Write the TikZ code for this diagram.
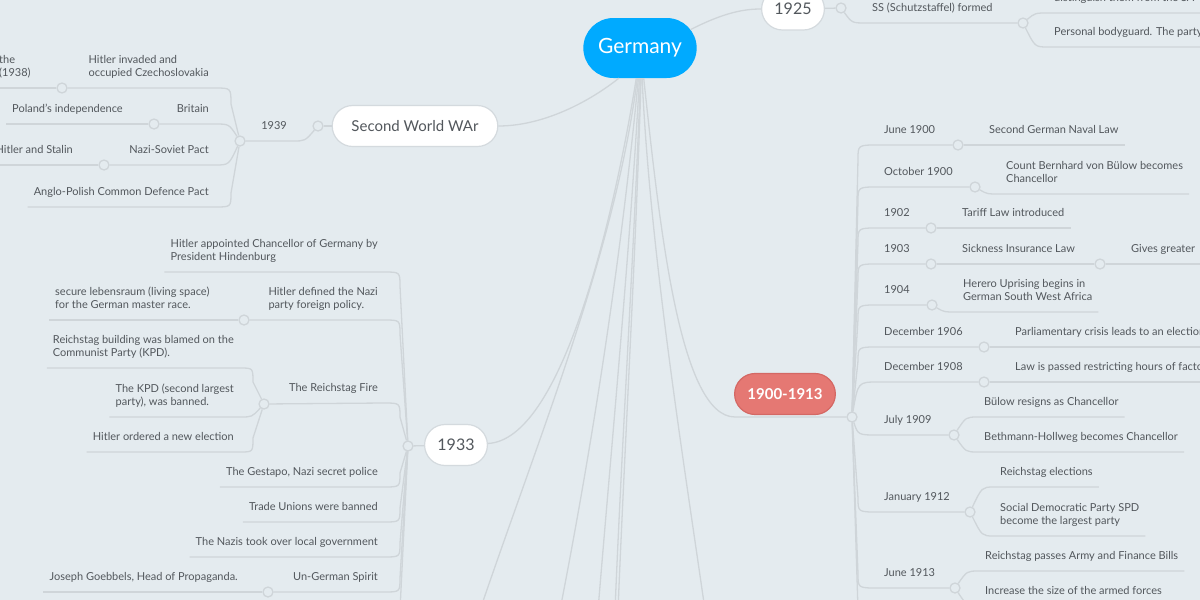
\documentclass[tikz,border=0pt]{standalone}
\usepackage{fontspec}
\setmainfont{Lato}
\usetikzlibrary{shapes.misc}
\definecolor{bg}{RGB}{228,235,239}
\definecolor{linegray}{RGB}{207,213,217}
\definecolor{txtgray}{RGB}{82,87,92}
\definecolor{gblue}{RGB}{0,170,255}
\definecolor{redfill}{RGB}{229,120,115}
\definecolor{redline}{RGB}{212,104,100}
\definecolor{pillline}{RGB}{212,218,222}
\tikzstyle{joint}=[circle,draw=linegray,fill=bg,line width=1.3pt,minimum size=10pt,inner sep=0pt]
\tikzstyle{link}=[draw=linegray,line width=1.3pt]
\tikzstyle{lbl}=[font=\fontsize{11}{13.5}\selectfont,text=txtgray,inner xsep=6pt,inner ysep=7pt,align=left,execute at end node=\strut]
\tikzstyle{pill}=[rounded rectangle,fill=white,draw=pillline,line width=1.2pt,text=txtgray,font=\fontsize{15}{18}\selectfont,minimum height=41pt,inner xsep=12pt]

\begin{document}
\begin{tikzpicture}[x=1pt,y=-1pt]
\useasboundingbox (0,0) rectangle (1200,600);
\clip (0,0) rectangle (1200,600);
\fill[bg] (0,0) rectangle (1200,600);

% central topic
\node[rounded rectangle,fill=gblue,text=white,font=\fontsize{21}{25}\selectfont,minimum width=120pt,minimum height=60pt] (ger) at (640,48) {Germany};

% 1925
\node[pill,font=\fontsize{16}{19}\selectfont,minimum width=57pt,minimum height=42pt] (n1925) at (793,9) {1925};
\node[joint] (d-1925) at (841,8) {};
\node[lbl,anchor=south west] (ss) at (866,23) {SS (Schutzstaffel) formed};
\node[joint] (d-ss) at (1023,23) {};
\node[lbl,anchor=south west] (distin) at (1048,13) {distinguish them from the SA};
\node[lbl,anchor=south west] (bodyg) at (1048,47) {Personal bodyguard. The party};

% Second World War
\node[pill,inner xsep=18.5pt] (sww) at (415,126) {Second World WAr};
\node[joint] (d-sww) at (318,126) {};
\node[lbl,anchor=south east] (y1939) at (293,141) {1939};
\node[joint] (j1939) at (240,141) {};
\node[lbl,anchor=south east] (czech) at (215,88) {Hitler invaded and\\occupied Czechoslovakia};
\node[joint] (d-czech) at (62,88) {};
\node[lbl,anchor=south west] (munich) at (-7,88) {the\\(1938)};
\node[lbl,anchor=south east] (britain) at (215,124) {Britain};
\node[joint] (d-britain) at (154,124) {};
\node[lbl,anchor=south west] (poland) at (6,124) {Poland's independence};
\node[lbl,anchor=south east] (pact) at (215,165) {Nazi-Soviet Pact};
\node[joint] (d-pact) at (104,165) {};
\node[lbl,anchor=south east] (stalin) at (79,165) {Hitler and Stalin};
\node[lbl,anchor=south east] (anglo) at (215,207) {Anglo-Polish Common Defence Pact};

% 1933
\node[pill,font=\fontsize{16}{19}\selectfont,minimum width=56pt] (n1933) at (456,445) {1933};
\node[joint] (j1933) at (408,446) {};
\node[lbl,anchor=south east] (appt) at (384,272) {Hitler appointed Chancellor of Germany by\\President Hindenburg};
\node[lbl,anchor=south east] (policy) at (384,320) {Hitler defined the Nazi\\party foreign policy.};
\node[joint] (d-policy) at (244,320) {};
\node[lbl,anchor=south west] (lebens) at (49,320) {secure lebensraum (living space)\\for the German master race.};
\node[lbl,anchor=south east] (fire) at (384,403) {The Reichstag Fire};
\node[joint] (d-fire) at (264,404) {};
\node[lbl,anchor=south east] (blamed) at (240,368) {Reichstag building was blamed on the\\Communist Party (KPD).};
\node[lbl,anchor=south east] (kpd) at (240,417) {The KPD (second largest\\party), was banned.};
\node[lbl,anchor=south east] (neweln) at (240,452) {Hitler ordered a new election};
\node[lbl,anchor=south east] (gestapo) at (384,487) {The Gestapo, Nazi secret police};
\node[lbl,anchor=south east] (unions) at (384,522) {Trade Unions were banned};
\node[lbl,anchor=south east] (localgov) at (384,557) {The Nazis took over local government};
\node[lbl,anchor=south east] (spirit) at (384,592) {Un-German Spirit};
\node[joint] (d-spirit) at (268,592) {};
\node[lbl,anchor=south east] (goebbels) at (244,592) {Joseph Goebbels, Head of Propaganda.};

% 1900-1913
\node[pill,fill=redfill,draw=redline,text=white,font=\fontsize{15}{18}\selectfont\bfseries,minimum width=97pt] (n1900) at (785,394) {1900-1913};
\node[joint] (j1900) at (852,417) {};
\node[lbl,anchor=south west] (jun1900) at (878,145) {June 1900};
\node[joint] (d-naval) at (958,145) {};
\node[lbl,anchor=south west] (naval) at (983,145) {Second German Naval Law};
\node[lbl,anchor=south west] (oct1900) at (878,187) {October 1900};
\node[joint] (d-chanc) at (975,187) {};
\node[lbl,anchor=south west] (chanc) at (1000,194) {Count Bernhard von Bülow becomes\\Chancellor};
\node[lbl,anchor=south west] (y1902) at (878,228) {1902};
\node[joint] (d-tariff) at (931,228) {};
\node[lbl,anchor=south west] (tariff) at (956,228) {Tariff Law introduced};
\node[lbl,anchor=south west] (y1903) at (878,264) {1903};
\node[joint] (d-sick) at (931,264) {};
\node[lbl,anchor=south west] (sick) at (956,264) {Sickness Insurance Law};
\node[joint] (d-greater) at (1100,264) {};
\node[lbl,anchor=south west] (greater) at (1125,264) {Gives greater};
\node[lbl,anchor=south west] (y1904) at (878,305) {1904};
\node[joint] (d-herero) at (932,305) {};
\node[lbl,anchor=south west] (herero) at (957,312) {Herero Uprising begins in\\German South West Africa};
\node[lbl,anchor=south west] (dec1906) at (878,347) {December 1906};
\node[joint] (d-crisis) at (984,347) {};
\node[lbl,anchor=south west] (crisis) at (1009,347) {Parliamentary crisis leads to an election};
\node[lbl,anchor=south west] (dec1908) at (878,382) {December 1908};
\node[joint] (d-factory) at (984,382) {};
\node[lbl,anchor=south west] (factory) at (1009,382) {Law is passed restricting hours of factory work};
\node[lbl,anchor=south west] (jul1909) at (878,435) {July 1909};
\node[joint] (d-jul) at (954,435) {};
\node[lbl,anchor=south west] (resign) at (978,417) {Bülow resigns as Chancellor};
\node[lbl,anchor=south west] (beth) at (978,452) {Bethmann-Hollweg becomes Chancellor};
\node[lbl,anchor=south west] (jan1912) at (878,512) {January 1912};
\node[joint] (d-jan) at (970,512) {};
\node[lbl,anchor=south west] (elect) at (994,487) {Reichstag elections};
\node[lbl,anchor=south west] (spd) at (994,536) {Social Democratic Party SPD\\become the largest party};
\node[lbl,anchor=south west] (jun1913) at (878,588) {June 1913};
\node[joint] (d-jun13) at (955,588) {};
\node[lbl,anchor=south west] (bills) at (979,571) {Reichstag passes Army and Finance Bills};
\node[lbl,anchor=south west] (armed) at (979,606) {Increase the size of the armed forces};

% branches running off the bottom edge
\coordinate (b1) at (480,610);
\coordinate (b2) at (560,610);
\coordinate (b3) at (598,610);
\coordinate (b4) at (615,610);
\coordinate (b5) at (618,610);
\coordinate (b6) at (705,610);
\coordinate (t1933) at (400,610);
\coordinate (t1900) at (858,610);

% connectors
\draw[link] (ger.20) .. controls (725,12) and (745,9) .. (n1925);
\draw[link] (n1925) -- (d-1925);
\draw[link] (d-1925) .. controls (852,23) .. (ss.south west) -- (d-ss);
\draw[link] (d-ss) .. controls (1035,13) .. (distin.south west) -- (distin.south east);
\draw[link] (d-ss) .. controls (1035,47) .. (bodyg.south west) -- (bodyg.south east);

\draw[link] (ger.235) .. controls (585,105) and (540,126) .. (sww);
\draw[link] (sww) -- (d-sww);
\draw[link] (d-sww) .. controls (305,141) .. (y1939.south east) -- (j1939);
\draw[link] (j1939) -- (231,104) .. controls (231,88) .. (czech.south east) -- (d-czech);
\draw[link] (d-czech) -- (munich.south west);
\draw[link] (j1939) .. controls (229,124) .. (britain.south east) -- (d-britain);
\draw[link] (d-britain) -- (poland.south west);
\draw[link] (j1939) .. controls (229,165) .. (pact.south east) -- (d-pact);
\draw[link] (d-pact) -- (stalin.south west);
\draw[link] (j1939) -- (231,193) .. controls (231,207) .. (anglo.south east) -- (anglo.south west);

\draw[link] (ger.263) .. controls (612,230) and (560,440) .. (n1933);
\draw[link] (n1933) -- (j1933);
\draw[link] (j1933) -- (400,286) .. controls (400,272) .. (appt.south east) -- (appt.south west);
\draw[link] (j1933) -- (400,334) .. controls (400,320) .. (policy.south east) -- (d-policy);
\draw[link] (d-policy) -- (lebens.south west);
\draw[link] (j1933) -- (400,417) .. controls (400,403) .. (fire.south east) -- (d-fire);
\draw[link] (d-fire) -- (253,382) .. controls (253,368) .. (blamed.south east) -- (blamed.south west);
\draw[link] (d-fire) .. controls (252,417) .. (kpd.south east) -- (kpd.south west);
\draw[link] (d-fire) -- (253,438) .. controls (253,452) .. (neweln.south east) -- (neweln.south west);
\draw[link] (j1933) -- (400,473) .. controls (400,487) .. (gestapo.south east) -- (gestapo.south west);
\draw[link] (j1933) -- (400,508) .. controls (400,522) .. (unions.south east) -- (unions.south west);
\draw[link] (j1933) -- (400,543) .. controls (400,557) .. (localgov.south east) -- (localgov.south west);
\draw[link] (j1933) -- (400,578) .. controls (400,592) .. (spirit.south east) -- (d-spirit);
\draw[link] (d-spirit) -- (goebbels.south west);
\draw[link] (j1933) -- (t1933);

\draw[link] (ger.277) .. controls (660,230) and (680,417) .. (735,417) -- (j1900);
\draw[link] (j1900) -- (858,159) .. controls (858,145) .. (jun1900.south west) -- (d-naval);
\draw[link] (d-naval) -- (naval.south east);
\draw[link] (j1900) -- (858,201) .. controls (858,187) .. (oct1900.south west) -- (d-chanc);
\draw[link] (d-chanc) .. controls (987,194) .. (chanc.south west) -- (chanc.south east);
\draw[link] (j1900) -- (858,242) .. controls (858,228) .. (y1902.south west) -- (d-tariff);
\draw[link] (d-tariff) -- (tariff.south east);
\draw[link] (j1900) -- (858,278) .. controls (858,264) .. (y1903.south west) -- (d-sick);
\draw[link] (d-sick) -- (d-greater);
\draw[link] (d-greater) -- (greater.south east);
\draw[link] (j1900) -- (858,319) .. controls (858,305) .. (y1904.south west) -- (d-herero);
\draw[link] (d-herero) .. controls (944,312) .. (herero.south west) -- (herero.south east);
\draw[link] (j1900) -- (858,361) .. controls (858,347) .. (dec1906.south west) -- (d-crisis);
\draw[link] (d-crisis) -- (crisis.south east);
\draw[link] (j1900) .. controls (858,382) .. (dec1908.south west) -- (d-factory);
\draw[link] (d-factory) -- (factory.south east);
\draw[link] (j1900) .. controls (858,435) .. (jul1909.south west) -- (d-jul);
\draw[link] (d-jul) .. controls (966,417) .. (resign.south west) -- (resign.south east);
\draw[link] (d-jul) .. controls (966,452) .. (beth.south west) -- (beth.south east);
\draw[link] (j1900) -- (858,498) .. controls (858,512) .. (jan1912.south west) -- (d-jan);
\draw[link] (d-jan) .. controls (982,487) .. (elect.south west) -- (elect.south east);
\draw[link] (d-jan) .. controls (982,536) .. (spd.south west) -- (spd.south east);
\draw[link] (j1900) -- (858,574) .. controls (858,588) .. (jun1913.south west) -- (d-jun13);
\draw[link] (d-jun13) .. controls (967,571) .. (bills.south west) -- (bills.south east);
\draw[link] (d-jun13) .. controls (967,606) .. (armed.south west) -- (armed.south east);
\draw[link] (j1900) -- (t1900);

\draw[link] (ger.265) .. controls (615,250) and (545,420) .. (b1);
\draw[link] (ger.267) .. controls (622,250) and (595,430) .. (b2);
\draw[link] (ger.269) .. controls (630,250) and (612,440) .. (b3);
\draw[link] (ger.271) .. controls (634,250) and (622,440) .. (b4);
\draw[link] (ger.272) .. controls (636,250) and (625,440) .. (b5);
\draw[link] (ger.274) .. controls (650,250) and (682,450) .. (b6);
\end{tikzpicture}
\end{document}
